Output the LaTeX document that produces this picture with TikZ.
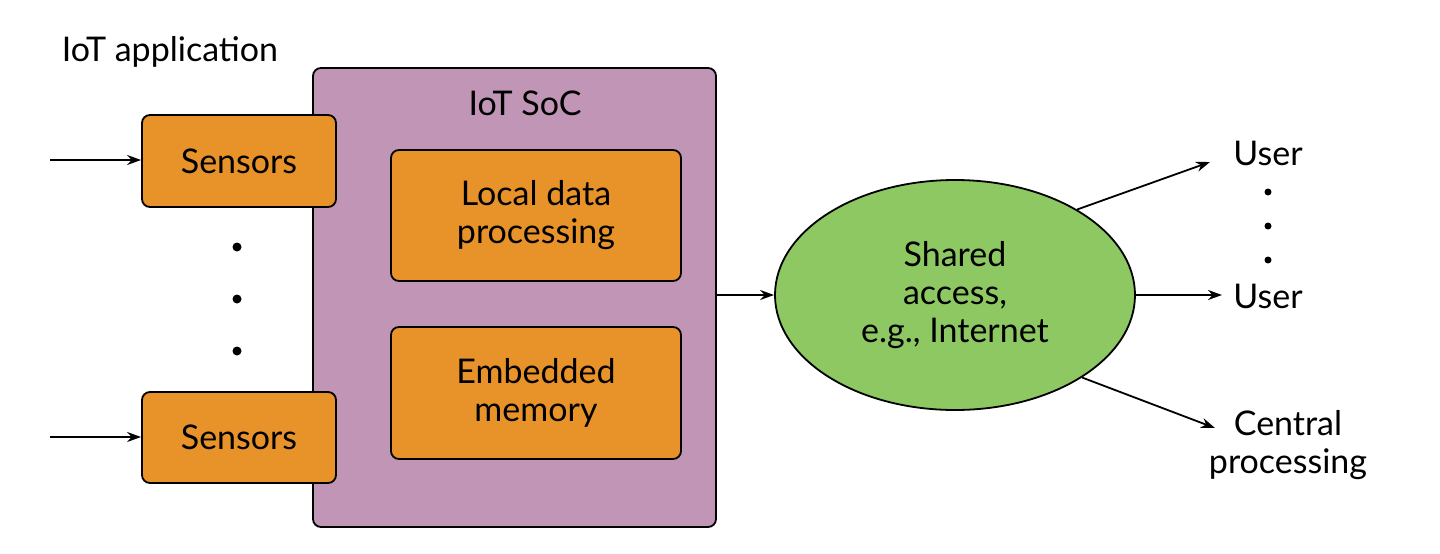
\documentclass[tikz,border=0pt]{standalone}
\usepackage{fontspec}
\setmainfont{Lato}
\usetikzlibrary{arrows.meta,shapes.geometric}
\definecolor{soc}{HTML}{C195B5}
\definecolor{org}{HTML}{E8922A}
\definecolor{grn}{HTML}{8DC862}
\begin{document}
\begin{tikzpicture}[x=1pt,y=-1pt,
  every node/.style={font=\fontsize{34}{38}\selectfont, align=center, inner sep=0},
  box/.style={draw=black, line width=1.8pt, rounded corners=8pt, fill=org},
  arr/.style={-{Stealth[length=14pt,width=10pt]}, line width=1.8pt},
  dot/.style={circle, fill=black, minimum size=9pt}]
\useasboundingbox (0,0) rectangle (1440,554);
\node (app) at (170,52) {IoT application};
\node[box, fill=soc, minimum width=403pt, minimum height=459pt] (soc) at (514.5,297.5) {};
\node (soctitle) at (525,103) {IoT SoC};
\node[box, minimum width=194pt, minimum height=92pt] (s1) at (239,161) {Sensors};
\node[box, minimum width=194pt, minimum height=91pt] (s2) at (239,437.5) {Sensors};
\node[box, minimum width=290pt, minimum height=131pt] (ldp) at (536,215.5) {Local data\\processing};
\node[box, minimum width=290pt, minimum height=132pt] (mem) at (536,393) {Embedded\\memory};
\node[dot] (d1) at (237,247) {};
\node[dot] (d2) at (237,299) {};
\node[dot] (d3) at (237,351) {};
\coordinate (i1) at (50,160);
\coordinate (i2) at (50,437);
\draw[arr] (i1) -- (s1.west |- i1);
\draw[arr] (i2) -- (s2.west |- i2);
\node[ellipse, draw=black, line width=1.8pt, fill=grn, minimum width=360pt, minimum height=230pt] (net) at (955,295) {Shared\\access,\\e.g., Internet};
\draw[arr] (soc.east |- net.west) -- (net.west);
\node (u1) at (1268,153) {User};
\node (u2) at (1268,296) {User};
\node (cp) at (1288,445) {Central\\processing};
\node[dot, minimum size=7pt] (e1) at (1268,192) {};
\node[dot, minimum size=7pt] (e2) at (1268,226) {};
\node[dot, minimum size=7pt] (e3) at (1268,260) {};
\draw[arr] (net.35) -- (1210,162);
\draw[arr] (net.east) -- (1222,295);
\draw[arr] (net.-33) -- (1215,428);
\end{tikzpicture}
\end{document}
